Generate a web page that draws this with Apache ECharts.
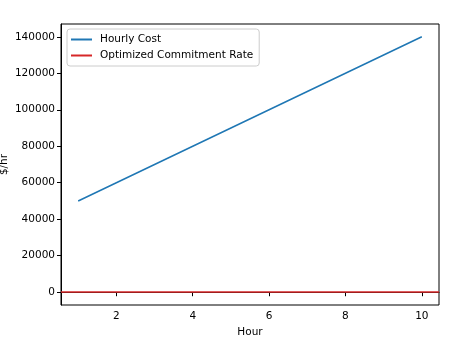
<!DOCTYPE html>
<html>
<head>
<meta charset="utf-8">
<script src="https://cdn.jsdelivr.net/npm/echarts@6/dist/echarts.min.js"></script>
<style>
html, body { margin: 0; padding: 0; background: #fff; }
#main { width: 474px; height: 342px; }
</style>
</head>
<body>
<div id="main"></div>
<script>
var hours = [1, 2, 3, 4, 5, 6, 7, 8, 9, 10];
var hourlyCost = [50000, 60000, 70000, 80000, 90000, 100000, 110000, 120000, 130000, 140000];
var commitRate = 0;
var xTicks = [2, 4, 6, 8, 10];
var yTicks = [0, 20000, 40000, 60000, 80000, 100000, 120000, 140000];

function pairs(xs, ys) {
	var out = [];
	for (var i = 0; i < xs.length; i++) {
		out.push([xs[i], ys[i]]);
	}
	return out;
}

var font = 'DejaVu Sans';
var fs = 10.5;
var chart = echarts.init(document.getElementById('main'));
var option = {
	animation: false,
	textStyle: { fontFamily: font },
	grid: {
		left: 61, right: 35, top: 24, bottom: 37,
		containLabel: false,
		outerBoundsMode: 'none',
		show: true, borderColor: '#000', borderWidth: 1
	},
	legend: {
		orient: 'vertical',
		left: 67, top: 29,
		padding: [5, 6, 5, 4],
		itemGap: 5,
		itemWidth: 21, itemHeight: 2,
		icon: 'rect',
		backgroundColor: '#fff',
		borderColor: '#ccc',
		borderWidth: 1,
		borderRadius: 3,
		textStyle: { fontFamily: font, fontSize: fs, color: '#000', padding: [0, 0, 0, 3] },
		data: ['Hourly Cost', 'Optimized Commitment Rate']
	},
	xAxis: {
		type: 'value',
		min: 0.55, max: 10.45,
		name: 'Hour',
		nameLocation: 'middle',
		nameGap: 22,
		nameMoveOverlap: false,
		nameTextStyle: { fontFamily: font, fontSize: fs, color: '#000' },
		splitLine: { show: false },
		axisLine: { lineStyle: { color: '#000', width: 1 } },
		axisTick: { customValues: xTicks, length: 4, lineStyle: { color: '#000' } },
		axisLabel: { customValues: xTicks, fontFamily: font, fontSize: fs, color: '#000', margin: 6 }
	},
	yAxis: {
		type: 'value',
		min: -7000, max: 147000,
		name: '$/hr',
		nameLocation: 'middle',
		nameGap: 51,
		nameMoveOverlap: false,
		nameTextStyle: { fontFamily: font, fontSize: fs, color: '#000' },
		splitLine: { show: false },
		axisLine: { show: true, lineStyle: { color: '#000', width: 1 } },
		axisTick: { show: true, customValues: yTicks, length: 4, lineStyle: { color: '#000' } },
		axisLabel: {
			customValues: yTicks, fontFamily: font, fontSize: fs, color: '#000', margin: 6,
			formatter: function (v) { return String(v); }
		}
	},
	series: [
		{
			name: 'Hourly Cost',
			type: 'line',
			data: pairs(hours, hourlyCost),
			showSymbol: false,
			itemStyle: { color: '#1f77b4' },
			lineStyle: { color: '#1f77b4', width: 1.5 }
		},
		{
			name: 'Optimized Commitment Rate',
			type: 'line',
			data: [],
			itemStyle: { color: '#d62728' },
			lineStyle: { color: '#d62728', width: 1.5 },
			markLine: {
				silent: true,
				symbol: 'none',
				label: { show: false },
				lineStyle: { color: '#d62728', width: 1.5, type: 'solid' },
				data: [{ yAxis: commitRate }]
			}
		}
	]
};
chart.setOption(option);
</script>
</body>
</html>
